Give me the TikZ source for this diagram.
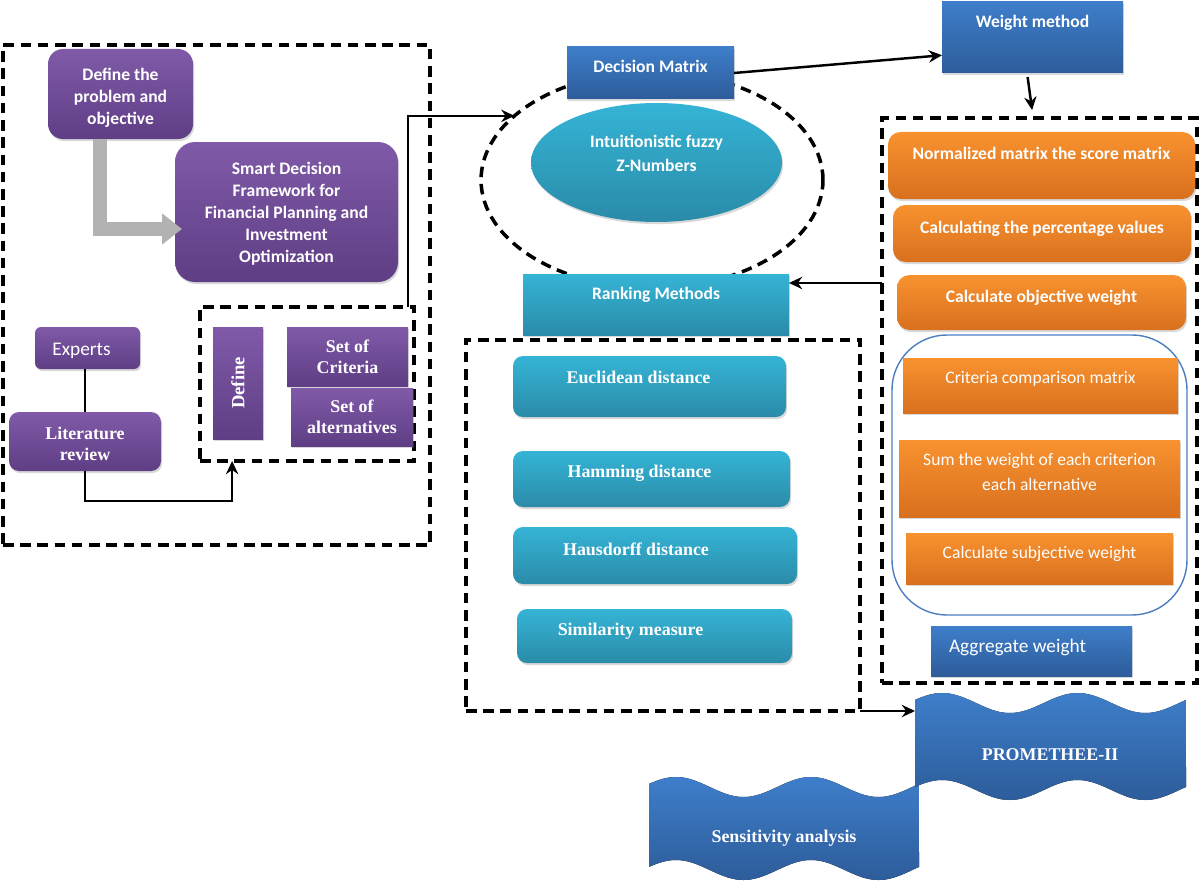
\documentclass[tikz,border=0pt]{standalone}
\usepackage{fontspec}
\setmainfont{Liberation Serif}
\newfontfamily\carl{Carlito}
\usetikzlibrary{arrows.meta,calc,fit,shapes.geometric,shadows}
\definecolor{pTop}{RGB}{128,90,168}
\definecolor{pBot}{RGB}{95,62,133}
\definecolor{bTop}{RGB}{62,126,202}
\definecolor{bBot}{RGB}{45,92,154}
\definecolor{tTop}{RGB}{53,180,214}
\definecolor{tBot}{RGB}{42,139,168}
\definecolor{oTop}{RGB}{248,146,47}
\definecolor{oBot}{RGB}{216,112,30}
\definecolor{ringc}{RGB}{74,126,191}
\definecolor{garrow}{RGB}{178,178,178}
\begin{document}
\begin{tikzpicture}[x=0.02cm,y=-0.02cm,
 shd/.style={drop shadow={opacity=0.3,shadow xshift=0.7pt,shadow yshift=-1.2pt}},
 box/.style={inner sep=0pt, outer sep=0pt, draw=none, text=white, align=center, shd},
 sbf/.style={font=\carl\bfseries\fontsize{10}{12.5}\selectfont},
 srf/.style={font=\bfseries\fontsize{10.2}{12}\selectfont},
 sreg/.style={font=\carl\fontsize{10}{14}\selectfont},
 purp/.style={box, top color=pTop, bottom color=pBot},
 blu/.style={box, top color=bTop, bottom color=bBot},
 teal/.style={box, top color=tTop, bottom color=tBot},
 orng/.style={box, top color=oTop, bottom color=oBot},
 lab/.style={anchor=north, inner sep=0pt, text=white, align=center},
 ctr/.style={lab, anchor=center},
 dbox/.style={draw=black, line width=2pt, dash pattern=on 6pt off 3.8pt, inner sep=0pt, outer sep=0pt},
 conn/.style={draw=black, line width=1.4pt, -{Stealth[length=7.5pt,width=7pt]}},
]
\useasboundingbox (0,0) rectangle (1200,892);

% dashed frames
\node[dbox, fit={(3,45)(430,545)}] (outer) {};
\node[dbox, fit={(200,307)(414,461)}] (inbox) {};
\node[dbox, fit={(466,340)(860,711)}] (lbox) {};
\node[dbox, fit={(882,118)(1197,683)}] (rbox) {};
\node[ellipse, draw=black, line width=2pt, dash pattern=on 6pt off 3.8pt, minimum width=6.84cm, minimum height=4.32cm, inner sep=0pt, outer sep=0pt] (zell) at (652,180) {};
\node[draw=ringc, line width=0.8pt, rounded corners=1.1cm, inner sep=0pt, outer sep=0pt, fit={(892,335)(1187,615)}] (ringbox) {};

% purple boxes
\node[purp, rounded corners=0.3cm, fit={(48,49)(193,139)}, label={[ctr,sbf,yshift=-0.07cm]center:Define the\\problem and\\objective}] (def) {};
\node[purp, rounded corners=0.4cm, fit={(175,142)(398,282)}, label={[ctr,sbf,yshift=-0.04cm]center:Smart Decision\\Framework for\\Financial Planning and\\Investment\\Optimization}] (smart) {};
\node[purp, rounded corners=0.12cm, fit={(35,327)(140,369)}, label={[ctr,font=\carl\fontsize{11}{13}\selectfont,xshift=-0.12cm,yshift=-0.05cm]center:Experts}] (ex) {};
\node[purp, rounded corners=0.2cm, fit={(9,412)(161,471)}, label={[ctr,srf,yshift=-0.04cm]center:Literature\\review}] (lit) {};
\node[purp, fit={(213,327)(263,439)}, label={[ctr,font=\bfseries\fontsize{10.6}{12}\selectfont,rotate=90]center:Define}] (defn) {};
\node[purp, fit={(287,327)(408,386)}, label={[ctr,srf]center:Set of\\Criteria}] (crit) {};
\node[purp, fit={(291,388)(413,446)}, label={[ctr,srf]center:Set of\\alternatives}] (alts) {};

% blue boxes
\node[blu, fit={(567,47)(734,99)}, label={[lab,sbf,yshift=-0.26cm]north:Decision Matrix}] (dm) {};
\node[blu, fit={(942,2)(1123,73)}, label={[lab,sbf,yshift=-0.26cm]north:Weight method}] (wm) {};
\node[blu, fit={(931,626)(1132,676)}, label={[lab,font=\carl\fontsize{11}{13}\selectfont,yshift=-0.26cm,xshift=-0.28cm]north:Aggregate weight}] (agg) {};

% teal
\node[teal, ellipse, minimum width=5.02cm, minimum height=2.38cm, label={[ctr,font=\carl\bfseries\fontsize{10}{14}\selectfont,yshift=0.18cm]center:Intuitionistic fuzzy\\Z-Numbers}] (izn) at (656.5,162.5) {};
\node[teal, fit={(523,274)(789,335)}, label={[lab,sbf,yshift=-0.26cm]north:Ranking Methods}] (rank) {};
\node[teal, rounded corners=0.2cm, fit={(513,356)(786,417)}, label={[lab,srf,yshift=-0.3cm,xshift=-0.22cm]north:Euclidean distance}] (euc) {};
\node[teal, rounded corners=0.2cm, fit={(513,451)(790,507)}, label={[lab,srf,yshift=-0.28cm,xshift=-0.24cm]north:Hamming distance}] (ham) {};
\node[teal, rounded corners=0.2cm, fit={(513,527)(797,584)}, label={[lab,srf,yshift=-0.32cm,xshift=-0.38cm]north:Hausdorff distance}] (hau) {};
\node[teal, rounded corners=0.2cm, fit={(517,609)(792,663)}, label={[lab,srf,yshift=-0.28cm,xshift=-0.48cm]north:Similarity measure}] (sim) {};

% orange
\node[orng, rounded corners=0.25cm, fit={(888,132)(1195,199)}, label={[lab,sbf,yshift=-0.3cm]north:Normalized matrix the score matrix}] (norm) {};
\node[orng, rounded corners=0.25cm, fit={(893,205)(1191,262)}, label={[lab,sbf,yshift=-0.32cm]north:Calculating the percentage values}] (perc) {};
\node[orng, rounded corners=0.25cm, fit={(897,275)(1186,330)}, label={[lab,sbf,yshift=-0.3cm]north:Calculate objective weight}] (objw) {};
\node[orng, fit={(903,358)(1178,413)}, label={[lab,sreg,yshift=-0.26cm]north:Criteria comparison matrix}] (ccm) {};
\node[orng, fit={(899,440)(1180,517)}, label={[lab,sreg,yshift=-0.26cm]north:Sum the weight of each criterion\\each alternative}] (sumw) {};
\node[orng, fit={(906,533)(1173,584)}, label={[lab,sreg,yshift=-0.26cm]north:Calculate subjective weight}] (subw) {};

% waves
\fill[top color=bTop, bottom color=bBot] plot[domain=0:1,samples=61,smooth,variable=\t] ({649+270*\t},{787-10*cos(720*\t-72)}) -- plot[domain=1:0,samples=61,smooth,variable=\t] ({649+270*\t},{870-10*cos(720*\t-72)}) -- cycle;
\fill[top color=bTop, bottom color=bBot] plot[domain=0:1,samples=61,smooth,variable=\t] ({915+271*\t},{703-10*cos(720*\t-72)}) -- plot[domain=1:0,samples=61,smooth,variable=\t] ({915+271*\t},{790-10*cos(720*\t-72)}) -- cycle;
\node[srf, text=white] (promt) at (1050,755) {PROMETHEE-II};
\node[srf, text=white] (senst) at (784,838) {Sensitivity analysis};
\coordinate (prom) at (915,711);

% connectors
\draw[garrow, line width=0.28cm, -{Triangle[width=0.6cm,length=0.4cm]}] ($(def.south west)!0.36!(def.south east)$) |- ($(smart.west)+(7,17)$);
\draw[black, line width=1.4pt] (lit.north |- ex.south) -- (lit.north);
\draw[conn] (lit.south) -- ++(0,30) -| ($(inbox.south west)!0.15!(inbox.south east)$);
\draw[conn] ($(inbox.north east)+(-6,0)$) |- (zell.155);
\draw[conn] (dm.east) -- ($(wm.south west)!0.25!(wm.north west)$);
\draw[conn, shorten <=0.08cm, shorten >=0.16cm] ($(wm.south west)!0.47!(wm.south east)$) -- ($(rbox.north west)!0.48!(rbox.north east)$);
\coordinate (rin) at ($(rbox.north west)!0.292!(rbox.south west)$);
\draw[conn] (rin) -- (rin -| rank.east);
\draw[conn] (lbox.south east) -- (lbox.south east -| prom);
\end{tikzpicture}
\end{document}
